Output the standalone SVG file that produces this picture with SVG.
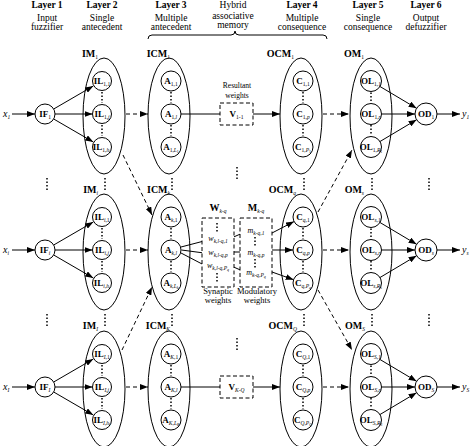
<svg xmlns="http://www.w3.org/2000/svg" width="474" height="446" viewBox="0 0 474 446">
<defs>
<marker id="ah" viewBox="0 0 8 6" refX="8" refY="3" markerWidth="8" markerHeight="6" orient="auto" markerUnits="userSpaceOnUse"><path d="M0,0 L8,3 L0,6 z" fill="#000"/></marker>
<style>
text{font-family:"Liberation Serif","Times New Roman",serif;fill:#000}
.nd{font-weight:bold;font-size:9px;text-anchor:middle}
.sb{font-size:5.5px;font-weight:normal}
.tn{font-size:4px;font-weight:normal}
.it{font-style:italic}
.lb{font-weight:bold;font-size:10px;text-anchor:end}
.hd{font-weight:bold;font-size:9.5px;text-anchor:middle}
.ds{font-size:9.5px;text-anchor:middle}
.sm{font-size:7.5px;text-anchor:middle}
.wt{font-size:8.5px;text-anchor:middle}
.wv{font-size:8px;font-style:italic;text-anchor:middle}
.ws{font-size:5.5px}
.xv{font-size:10px;font-style:italic}
.ln{fill:none;stroke:#000;stroke-width:1}
.ar{marker-end:url(#ah)}
.dsh{stroke-dasharray:4 3}
.dot{fill:none;stroke:#000;stroke-width:1.5;stroke-dasharray:1.5 2}
.el{fill:none;stroke:#000;stroke-width:1}
.nc{fill:#fff;stroke:#000;stroke-width:1}
.bx{fill:#fff;stroke:#000;stroke-width:1;stroke-dasharray:4 2.5}
</style>
</defs>
<rect width="474" height="446" fill="#fff"/>

<g id="header">
<text class="hd" x="47" y="7.5">Layer 1</text><text class="ds" x="47" y="20.5">Input</text><text class="ds" x="47" y="30">fuzzifier</text>
<text class="hd" x="102" y="7.5">Layer 2</text><text class="ds" x="102" y="20.5">Single</text><text class="ds" x="102" y="30">antecedent</text>
<text class="hd" x="171" y="7.5">Layer 3</text><text class="ds" x="171" y="20.5">Multiple</text><text class="ds" x="171" y="30">antecedent</text>
<text class="ds" x="233" y="7.5">Hybrid</text><text class="ds" x="233" y="18.5">associative</text><text class="ds" x="233" y="27.5">memory</text>
<text class="hd" x="302" y="7.5">Layer 4</text><text class="ds" x="302" y="20.5">Multiple</text><text class="ds" x="302" y="30">consequence</text>
<text class="hd" x="368" y="7.5">Layer 5</text><text class="ds" x="368" y="20.5">Single</text><text class="ds" x="368" y="30">consequence</text>
<text class="hd" x="426" y="7.5">Layer 6</text><text class="ds" x="426" y="20.5">Output</text><text class="ds" x="426" y="30">defuzzifier</text>
<path class="ln" d="M148,39 Q148,35 152,35 L231,35 Q235,35 235,31 Q235,35 239,35 L323,35 Q327,35 327,39"/>
</g>

<g id="connectors">
<!-- row 1 -->
<line class="ln ar" x1="12" y1="114" x2="35" y2="114"/>
<line class="ln ar" x1="53.7" y1="109" x2="93.3" y2="86"/>
<line class="ln ar" x1="55" y1="114" x2="92.5" y2="114"/>
<line class="ln ar" x1="53.7" y1="119" x2="93.3" y2="142"/>
<line class="ln dsh ar" x1="126" y1="114" x2="148" y2="114"/>
<line class="ln" x1="181" y1="114" x2="220" y2="114"/>
<line class="ln ar" x1="253" y1="114" x2="280" y2="114"/>
<line class="ln dsh ar" x1="323" y1="114" x2="349" y2="114"/>
<line class="ln ar" x1="380" y1="86.5" x2="416.6" y2="108.3"/>
<line class="ln ar" x1="381.5" y1="114" x2="415" y2="114"/>
<line class="ln ar" x1="380" y1="141.5" x2="416.6" y2="119.7"/>
<line class="ln ar" x1="437" y1="114" x2="460" y2="114"/>
<!-- row 2 -->
<line class="ln ar" x1="12" y1="250" x2="35" y2="250"/>
<line class="ln ar" x1="53.7" y1="245" x2="93.3" y2="222"/>
<line class="ln ar" x1="55" y1="250" x2="92.5" y2="250"/>
<line class="ln ar" x1="53.7" y1="255" x2="93.3" y2="278"/>
<line class="ln dsh ar" x1="126" y1="250" x2="148" y2="250"/>
<line class="ln" x1="181" y1="247" x2="204" y2="241"/>
<line class="ln" x1="181.5" y1="250" x2="204" y2="253"/>
<line class="ln" x1="181" y1="253" x2="204" y2="265"/>
<line class="ln" x1="229" y1="239" x2="245" y2="232"/>
<line class="ln" x1="229" y1="252" x2="245" y2="252"/>
<line class="ln" x1="229" y1="265" x2="245" y2="272"/>
<line class="ln ar" x1="272" y1="233" x2="294" y2="221.6"/>
<line class="ln ar" x1="272" y1="250" x2="293" y2="250"/>
<line class="ln ar" x1="272" y1="272" x2="293.6" y2="279.7"/>
<line class="ln dsh ar" x1="323" y1="250" x2="349" y2="250"/>
<line class="ln ar" x1="380" y1="222.5" x2="416.6" y2="244.3"/>
<line class="ln ar" x1="381.5" y1="250" x2="415" y2="250"/>
<line class="ln ar" x1="380" y1="277.5" x2="416.6" y2="255.7"/>
<line class="ln ar" x1="437" y1="250" x2="460" y2="250"/>
<!-- row 3 -->
<line class="ln ar" x1="12" y1="387" x2="35" y2="387"/>
<line class="ln ar" x1="53.7" y1="382" x2="93.3" y2="359"/>
<line class="ln ar" x1="55" y1="387" x2="92.5" y2="387"/>
<line class="ln ar" x1="53.7" y1="392" x2="93.3" y2="415"/>
<line class="ln dsh ar" x1="126" y1="387" x2="148" y2="387"/>
<line class="ln" x1="181" y1="387" x2="220" y2="387"/>
<line class="ln ar" x1="253" y1="387" x2="280" y2="387"/>
<line class="ln dsh ar" x1="323" y1="387" x2="349" y2="387"/>
<line class="ln ar" x1="380" y1="359.5" x2="416.6" y2="381.3"/>
<line class="ln ar" x1="381.5" y1="387" x2="415" y2="387"/>
<line class="ln ar" x1="380" y1="414.5" x2="416.6" y2="392.7"/>
<line class="ln ar" x1="437" y1="387" x2="460" y2="387"/>
<!-- cross-row dashed -->
<line class="ln dsh ar" x1="123" y1="155" x2="152" y2="215"/>
<line class="ln dsh ar" x1="122" y1="350" x2="152" y2="287"/>
<line class="ln dsh ar" x1="318" y1="212" x2="352" y2="150"/>
<line class="ln dsh ar" x1="318" y1="290" x2="352" y2="350"/>
</g>

<g id="ellipsis">
<line class="dot" x1="47" y1="178" x2="47" y2="190"/><line class="dot" x1="47" y1="314" x2="47" y2="326"/>
<line class="dot" x1="429" y1="178" x2="429" y2="190"/><line class="dot" x1="429" y1="314" x2="429" y2="326"/>
<line class="dot" x1="237" y1="167" x2="237" y2="179"/><line class="dot" x1="237" y1="338" x2="237" y2="350"/>
<line class="dot" x1="105" y1="178" x2="105" y2="192"/><line class="dot" x1="105" y1="314" x2="105" y2="328"/>
<line class="dot" x1="172" y1="178" x2="172" y2="192"/><line class="dot" x1="172" y1="314" x2="172" y2="328"/>
<line class="dot" x1="304" y1="178" x2="304" y2="192"/><line class="dot" x1="304" y1="314" x2="304" y2="328"/>
<line class="dot" x1="372" y1="178" x2="372" y2="192"/><line class="dot" x1="372" y1="314" x2="372" y2="328"/>
</g>

<g id="io-labels">
<text class="xv" x="3" y="117">x<tspan class="ws" dy="1.5">1</tspan></text>
<text class="xv" x="3" y="253">x<tspan class="ws" dy="1.5">i</tspan></text>
<text class="xv" x="3" y="390">x<tspan class="ws" dy="1.5">I</tspan></text>
<text class="xv" x="462" y="117">y<tspan class="ws" dy="1.5">1</tspan></text>
<text class="xv" x="462" y="253">y<tspan class="ws" dy="1.5">s</tspan></text>
<text class="xv" x="462" y="390">y<tspan class="ws" dy="1.5">S</tspan></text>
</g>

<!-- ROW 1 -->
<g id="IF1"><circle class="nc" cx="45" cy="114" r="10"/><text class="nd" x="45" y="117">IF<tspan class="sb" dy="1.5">1</tspan></text></g>
<g id="IM1"><ellipse class="el" cx="104" cy="116" rx="21" ry="58"/><text class="lb" x="98" y="57">IM<tspan class="sb" dy="1.5">1</tspan></text>
<line class="dot" x1="102" y1="92" x2="102" y2="103"/><line class="dot" x1="102" y1="125" x2="102" y2="136"/>
<g id="IL11"><circle class="nc" cx="102" cy="81" r="9.5"/><text class="nd" x="102" y="84">IL<tspan class="sb" dy="1.5">1,1</tspan></text></g>
<g id="IL1j"><circle class="nc" cx="102" cy="114" r="9.5"/><text class="nd" x="102" y="117">IL<tspan class="sb" dy="1.5">1,<tspan class="it">j</tspan></tspan></text></g>
<g id="IL1h"><circle class="nc" cx="102" cy="147" r="9.5"/><text class="nd" x="102" y="150">IL<tspan class="sb" dy="1.5">1,<tspan class="it">h</tspan><tspan class="tn" dy="1">1</tspan></tspan></text></g>
</g>
<g id="ICM1"><ellipse class="el" cx="169" cy="116" rx="21" ry="58"/><text class="lb" x="170" y="57">ICM<tspan class="sb" dy="1.5">1</tspan></text>
<line class="dot" x1="171" y1="92" x2="171" y2="103"/><line class="dot" x1="171" y1="125" x2="171" y2="136"/>
<g id="A11"><circle class="nc" cx="171" cy="81" r="10"/><text class="nd" x="171" y="84">A<tspan class="sb" dy="1.5">1,1</tspan></text></g>
<g id="A1l"><circle class="nc" cx="171" cy="114" r="10"/><text class="nd" x="171" y="117">A<tspan class="sb" dy="1.5">1,<tspan class="it">l</tspan></tspan></text></g>
<g id="A1L"><circle class="nc" cx="171" cy="147" r="10"/><text class="nd" x="171" y="150">A<tspan class="sb" dy="1.5">1,<tspan class="it">L</tspan><tspan class="tn" dy="1">1</tspan></tspan></text></g>
</g>
<g id="V11"><text class="sm" x="237" y="88">Resultant</text><text class="sm" x="237" y="97.5">weights</text>
<rect class="bx" x="220" y="103" width="33" height="22"/><text class="nd" x="236.5" y="117">V<tspan class="sb" dy="1.5">1-1</tspan></text></g>
<g id="OCM1"><ellipse class="el" cx="301" cy="116" rx="21" ry="58"/><text class="lb" x="294" y="57">OCM<tspan class="sb" dy="1.5">1</tspan></text>
<line class="dot" x1="303" y1="92" x2="303" y2="103"/><line class="dot" x1="303" y1="125" x2="303" y2="136"/>
<g id="C11"><circle class="nc" cx="303" cy="81" r="10"/><text class="nd" x="303" y="84">C<tspan class="sb" dy="1.5">1,1</tspan></text></g>
<g id="C1p"><circle class="nc" cx="303" cy="114" r="10"/><text class="nd" x="303" y="117">C<tspan class="sb" dy="1.5">1,<tspan class="it">p</tspan></tspan></text></g>
<g id="C1P"><circle class="nc" cx="303" cy="147" r="10"/><text class="nd" x="303" y="150">C<tspan class="sb" dy="1.5">1,<tspan class="it">P</tspan><tspan class="tn" dy="1">1</tspan></tspan></text></g>
</g>
<g id="OM1"><ellipse class="el" cx="371" cy="116" rx="21" ry="58"/><text class="lb" x="364" y="57">OM<tspan class="sb" dy="1.5">1</tspan></text>
<line class="dot" x1="371" y1="92.5" x2="371" y2="103"/><line class="dot" x1="371" y1="125" x2="371" y2="135.5"/>
<g id="OL11"><circle class="nc" cx="371" cy="81" r="10.5"/><text class="nd" x="371" y="84">OL<tspan class="sb" dy="1.5">1,1</tspan></text></g>
<g id="OL1r"><circle class="nc" cx="371" cy="114" r="10.5"/><text class="nd" x="371" y="117">OL<tspan class="sb" dy="1.5">1,<tspan class="it">r</tspan></tspan></text></g>
<g id="OL1R"><circle class="nc" cx="371" cy="147" r="10.5"/><text class="nd" x="371" y="150">OL<tspan class="sb" dy="1.5">1,<tspan class="it">R</tspan><tspan class="tn" dy="1">1</tspan></tspan></text></g>
</g>
<g id="OD1"><circle class="nc" cx="426" cy="114" r="11"/><text class="nd" x="426" y="117">OD<tspan class="sb" dy="1.5">1</tspan></text></g>

<!-- ROW 2 -->
<g id="IFi"><circle class="nc" cx="45" cy="250" r="10"/><text class="nd" x="45" y="253">IF<tspan class="sb it" dy="1.5">i</tspan></text></g>
<g id="IMi"><ellipse class="el" cx="104" cy="252" rx="21" ry="58"/><text class="lb" x="98" y="193">IM<tspan class="sb it" dy="1.5">i</tspan></text>
<line class="dot" x1="102" y1="228" x2="102" y2="239"/><line class="dot" x1="102" y1="261" x2="102" y2="272"/>
<g id="ILi1"><circle class="nc" cx="102" cy="217" r="9.5"/><text class="nd" x="102" y="220">IL<tspan class="sb" dy="1.5"><tspan class="it">i</tspan>,1</tspan></text></g>
<g id="ILij"><circle class="nc" cx="102" cy="250" r="9.5"/><text class="nd" x="102" y="253">IL<tspan class="sb it" dy="1.5">i,j</tspan></text></g>
<g id="ILih"><circle class="nc" cx="102" cy="283" r="9.5"/><text class="nd" x="102" y="286">IL<tspan class="sb it" dy="1.5">i,h<tspan class="tn" dy="1">i</tspan></tspan></text></g>
</g>
<g id="ICMk"><ellipse class="el" cx="169" cy="252" rx="21" ry="58"/><text class="lb" x="170" y="193">ICM<tspan class="sb it" dy="1.5">k</tspan></text>
<line class="dot" x1="171" y1="228" x2="171" y2="239"/><line class="dot" x1="171" y1="261" x2="171" y2="272"/>
<g id="Ak1"><circle class="nc" cx="171" cy="217" r="10"/><text class="nd" x="171" y="220">A<tspan class="sb" dy="1.5"><tspan class="it">k</tspan>,1</tspan></text></g>
<g id="Akl"><circle class="nc" cx="171" cy="250" r="10"/><text class="nd" x="171" y="253">A<tspan class="sb it" dy="1.5">k,l</tspan></text></g>
<g id="AkL"><circle class="nc" cx="171" cy="283" r="10"/><text class="nd" x="171" y="286">A<tspan class="sb it" dy="1.5">k,L<tspan class="tn" dy="1">k</tspan></tspan></text></g>
</g>
<g id="Wkq">
<text class="nd" x="218" y="211" style="font-size:10px">W<tspan class="sb it" dy="1.5">k-q</tspan></text>
<rect class="bx" x="202" y="218" width="32" height="69"/>
<line class="dot" x1="217" y1="223" x2="217" y2="233"/>
<text class="wv" x="218" y="241">w<tspan class="ws" dy="1.5">k,l-q,1</tspan></text>
<text class="wv" x="218" y="255">w<tspan class="ws" dy="1.5">k,l-q,p</tspan></text>
<text class="wv" x="218" y="268">w<tspan class="ws" dy="1.5">k,l-q,P<tspan class="tn" dy="1">q</tspan></tspan></text>
<line class="dot" x1="217" y1="273" x2="217" y2="283"/>
<text class="wt" x="218" y="294">Synaptic</text><text class="wt" x="218" y="303">weights</text>
</g>
<g id="Mkq">
<text class="nd" x="256" y="211" style="font-size:10px">M<tspan class="sb it" dy="1.5">k-q</tspan></text>
<rect class="bx" x="240" y="218" width="32" height="69"/>
<text class="wv" x="256" y="233">m<tspan class="ws" dy="1.5">k-q,1</tspan></text>
<line class="dot" x1="255" y1="237" x2="255" y2="246"/>
<text class="wv" x="256" y="255">m<tspan class="ws" dy="1.5">k-q,p</tspan></text>
<line class="dot" x1="255" y1="259" x2="255" y2="268"/>
<text class="wv" x="256" y="275">m<tspan class="ws" dy="1.5">k-q,P<tspan class="tn" dy="1">q</tspan></tspan></text>
<text class="wt" x="257" y="294">Modulatory</text><text class="wt" x="257" y="303">weights</text>
</g>
<g id="OCMq"><ellipse class="el" cx="301" cy="252" rx="21" ry="58"/><text class="lb" x="296" y="193">OCM<tspan class="sb it" dy="1.5">q</tspan></text>
<line class="dot" x1="303" y1="228" x2="303" y2="239"/><line class="dot" x1="303" y1="261" x2="303" y2="272"/>
<g id="Cq1"><circle class="nc" cx="303" cy="217" r="10"/><text class="nd" x="303" y="220">C<tspan class="sb" dy="1.5"><tspan class="it">q</tspan>,1</tspan></text></g>
<g id="Cqp"><circle class="nc" cx="303" cy="250" r="10"/><text class="nd" x="303" y="253">C<tspan class="sb it" dy="1.5">q,p</tspan></text></g>
<g id="CqP"><circle class="nc" cx="303" cy="283" r="10"/><text class="nd" x="303" y="286">C<tspan class="sb it" dy="1.5">q,P<tspan class="tn" dy="1">q</tspan></tspan></text></g>
</g>
<g id="OMs"><ellipse class="el" cx="371" cy="252" rx="21" ry="58"/><text class="lb" x="364" y="193">OM<tspan class="sb it" dy="1.5">s</tspan></text>
<line class="dot" x1="371" y1="228.5" x2="371" y2="239"/><line class="dot" x1="371" y1="261" x2="371" y2="271.5"/>
<g id="OLs1"><circle class="nc" cx="371" cy="217" r="10.5"/><text class="nd" x="371" y="220">OL<tspan class="sb" dy="1.5"><tspan class="it">s</tspan>,1</tspan></text></g>
<g id="OLsr"><circle class="nc" cx="371" cy="250" r="10.5"/><text class="nd" x="371" y="253">OL<tspan class="sb it" dy="1.5">s,r</tspan></text></g>
<g id="OLsR"><circle class="nc" cx="371" cy="283" r="10.5"/><text class="nd" x="371" y="286">OL<tspan class="sb it" dy="1.5">s,R<tspan class="tn" dy="1">s</tspan></tspan></text></g>
</g>
<g id="ODs"><circle class="nc" cx="426" cy="250" r="11"/><text class="nd" x="426" y="253">OD<tspan class="sb it" dy="1.5">s</tspan></text></g>

<!-- ROW 3 -->
<g id="IFI"><circle class="nc" cx="45" cy="387" r="10"/><text class="nd" x="45" y="390">IF<tspan class="sb it" dy="1.5">I</tspan></text></g>
<g id="IMI"><ellipse class="el" cx="104" cy="389" rx="21" ry="58"/><text class="lb" x="98" y="329">IM<tspan class="sb it" dy="1.5">I</tspan></text>
<line class="dot" x1="102" y1="365" x2="102" y2="376"/><line class="dot" x1="102" y1="398" x2="102" y2="409"/>
<g id="ILI1"><circle class="nc" cx="102" cy="354" r="9.5"/><text class="nd" x="102" y="357">IL<tspan class="sb" dy="1.5"><tspan class="it">I</tspan>,1</tspan></text></g>
<g id="ILIj"><circle class="nc" cx="102" cy="387" r="9.5"/><text class="nd" x="102" y="390">IL<tspan class="sb it" dy="1.5">I,j</tspan></text></g>
<g id="ILIh"><circle class="nc" cx="102" cy="420" r="9.5"/><text class="nd" x="102" y="423">IL<tspan class="sb it" dy="1.5">I,h<tspan class="tn" dy="1">I</tspan></tspan></text></g>
</g>
<g id="ICMK"><ellipse class="el" cx="169" cy="389" rx="21" ry="58"/><text class="lb" x="170" y="329">ICM<tspan class="sb it" dy="1.5">K</tspan></text>
<line class="dot" x1="171" y1="365" x2="171" y2="376"/><line class="dot" x1="171" y1="398" x2="171" y2="409"/>
<g id="AK1"><circle class="nc" cx="171" cy="354" r="10"/><text class="nd" x="171" y="357">A<tspan class="sb" dy="1.5"><tspan class="it">K</tspan>,1</tspan></text></g>
<g id="AKl"><circle class="nc" cx="171" cy="387" r="10"/><text class="nd" x="171" y="390">A<tspan class="sb it" dy="1.5">K,l</tspan></text></g>
<g id="AKL"><circle class="nc" cx="171" cy="420" r="10"/><text class="nd" x="171" y="423">A<tspan class="sb it" dy="1.5">K,L<tspan class="tn" dy="1">K</tspan></tspan></text></g>
</g>
<g id="VKQ"><rect class="bx" x="220" y="376" width="33" height="22"/><text class="nd" x="236.5" y="390">V<tspan class="sb it" dy="1.5">K-Q</tspan></text></g>
<g id="OCMQ"><ellipse class="el" cx="301" cy="389" rx="21" ry="58"/><text class="lb" x="297" y="329">OCM<tspan class="sb it" dy="1.5">Q</tspan></text>
<line class="dot" x1="303" y1="365" x2="303" y2="376"/><line class="dot" x1="303" y1="398" x2="303" y2="409"/>
<g id="CQ1"><circle class="nc" cx="303" cy="354" r="10"/><text class="nd" x="303" y="357">C<tspan class="sb" dy="1.5"><tspan class="it">Q</tspan>,1</tspan></text></g>
<g id="CQp"><circle class="nc" cx="303" cy="387" r="10"/><text class="nd" x="303" y="390">C<tspan class="sb it" dy="1.5">Q,p</tspan></text></g>
<g id="CQP"><circle class="nc" cx="303" cy="420" r="10"/><text class="nd" x="303" y="423">C<tspan class="sb it" dy="1.5">Q,P<tspan class="tn" dy="1">Q</tspan></tspan></text></g>
</g>
<g id="OMS"><ellipse class="el" cx="371" cy="389" rx="21" ry="58"/><text class="lb" x="365" y="329">OM<tspan class="sb it" dy="1.5">S</tspan></text>
<line class="dot" x1="371" y1="365.5" x2="371" y2="376"/><line class="dot" x1="371" y1="398" x2="371" y2="408.5"/>
<g id="OLS1"><circle class="nc" cx="371" cy="354" r="10.5"/><text class="nd" x="371" y="357">OL<tspan class="sb" dy="1.5"><tspan class="it">S</tspan>,1</tspan></text></g>
<g id="OLSr"><circle class="nc" cx="371" cy="387" r="10.5"/><text class="nd" x="371" y="390">OL<tspan class="sb it" dy="1.5">S,r</tspan></text></g>
<g id="OLSR"><circle class="nc" cx="371" cy="420" r="10.5"/><text class="nd" x="371" y="423">OL<tspan class="sb it" dy="1.5">S,R<tspan class="tn" dy="1">S</tspan></tspan></text></g>
</g>
<g id="ODS"><circle class="nc" cx="426" cy="387" r="11"/><text class="nd" x="426" y="390">OD<tspan class="sb it" dy="1.5">S</tspan></text></g>
</svg>
